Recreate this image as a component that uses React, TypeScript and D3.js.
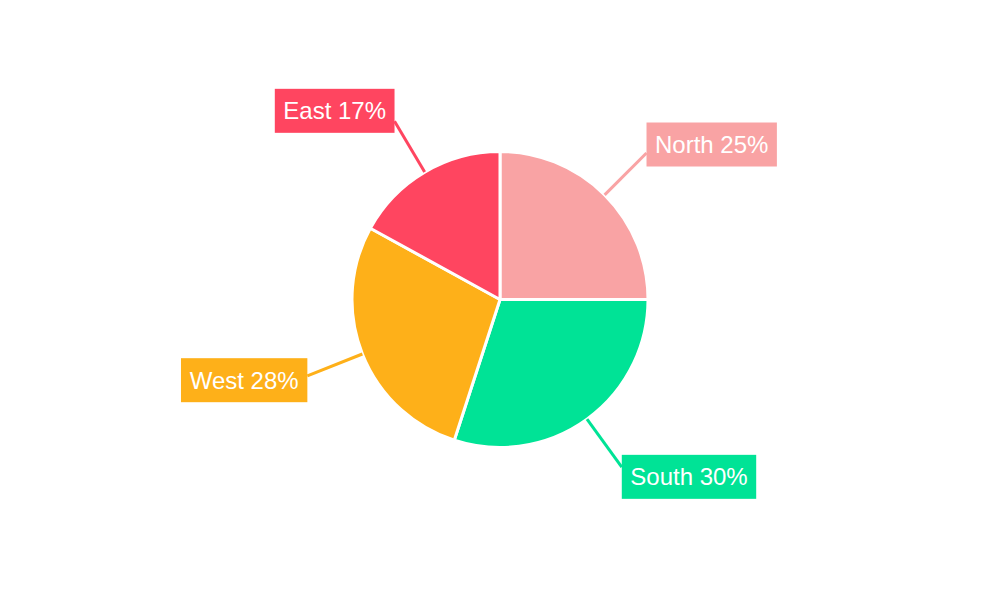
import React from "react";
import * as d3 from "d3";

const categories = ["North", "South", "West", "East"];
const values = [25, 30, 28, 17];
const colors = ["#F9A3A4", "#00E396", "#FEB019", "#FF4560"];

const W = 1000;
const H = 600;

export default function App() {
  const cx = 500;
  const cy = 299.5;
  const r = 148;
  const outerR = r * 1.4;
  const pie = d3.pie<number>().sort(null).value((d) => d)(values);
  const arc = d3.arc<d3.PieArcDatum<number>>().innerRadius(0).outerRadius(r);
  const total = d3.sum(values);
  const fontSize = 24;
  const padX = 8.5;
  const boxH = 44;

  return (
    <div style={{ position: "absolute", left: 0, top: 0 }}>
      <svg width={W} height={H} style={{ display: "block" }}>
        <rect width={W} height={H} fill="#fff" />
        <g transform={`translate(${cx},${cy})`}>
          {pie.map((p, i) => (
            <path key={i} d={arc(p) || ""} fill={colors[i]} stroke="#fff" strokeWidth={3} strokeLinejoin="round" />
          ))}
          {pie.map((p, i) => {
            const a = (p.startAngle + p.endAngle) / 2;
            const sx = Math.sin(a) * r;
            const sy = -Math.cos(a) * r;
            const ex = Math.sin(a) * outerR;
            const ey = -Math.cos(a) * outerR;
            const label = `${categories[i]} ${Math.round((values[i] / total) * 100)}%`;
            const textW = label.length * 0; // placeholder; real width measured by estimate below
            const est = estimateWidth(label, fontSize);
            const boxW = est + padX * 2;
            const right = Math.sin(a) >= 0;
            const bx = right ? ex : ex - boxW;
            const bcy = ey - 12 * Math.cos(a);
            return (
              <g key={"l" + i}>
                <line x1={sx} y1={sy} x2={ex} y2={ey} stroke={colors[i]} strokeWidth={3} />
                <rect x={bx} y={bcy - boxH / 2} width={boxW} height={boxH} fill={colors[i]} />
                <text
                  x={bx + boxW / 2}
                  y={bcy}
                  dy="0.35em"
                  textAnchor="middle"
                  fill="#fff"
                  fontFamily="'Liberation Sans', Arial, sans-serif"
                  fontSize={fontSize}
                >
                  {label}
                </text>
              </g>
            );
          })}
        </g>
      </svg>
    </div>
  );
}

const widths: Record<string, number> = {
  N: 0.722, o: 0.556, r: 0.333, t: 0.278, h: 0.556, " ": 0.278, "%": 0.889,
  S: 0.667, u: 0.556, W: 0.944, e: 0.556, s: 0.5, E: 0.667, a: 0.556,
};
function estimateWidth(s: string, fs: number) {
  let w = 0;
  for (const c of s) w += (widths[c] ?? 0.556) * fs;
  return w;
}
